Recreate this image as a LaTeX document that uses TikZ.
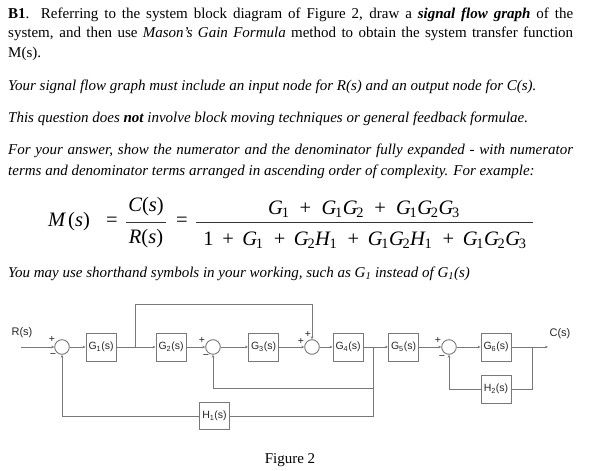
\documentclass[tikz,border=0pt]{standalone}
\usepackage{fontspec}
\setmainfont{Liberation Serif}
\newfontfamily\arialf{Liberation Sans}
\usetikzlibrary{arrows.meta}
\definecolor{linegray}{RGB}{120,120,120}
\newcommand\vv[2]{\textit{#1}\kern-0.06em\textsubscript{#2}}
\begin{document}
\begin{tikzpicture}[x=1pt,y=-1pt,
  wire/.style={draw=linegray, line width=0.9pt},
  arr/.style={wire, -{Stealth[length=3pt,width=2.6pt]}},
  blk/.style={draw=linegray, line width=0.9pt, minimum width=30pt, minimum height=28pt, inner sep=0pt, font=\arialf\fontsize{10.5}{11}\selectfont, text=black!85},
  sumc/.style={circle, draw=linegray, line width=0.9pt, minimum size=14.6pt, inner sep=0pt},
  sgn/.style={font=\arialf\fontsize{10.5}{10.5}\selectfont, inner sep=0pt, text=black!85},
  body/.style={anchor=base west, inner sep=0pt, font=\fontsize{15}{18}\selectfont},
  eq/.style={inner sep=0pt, font=\fontsize{20.5}{22}\selectfont},
  lbl/.style={font=\arialf\fontsize{11}{11}\selectfont, inner sep=0pt, text=black!85},
  fbar/.style={draw=black!80, line width=1pt}
]
\useasboundingbox (0,0) rectangle (595,471);
\fill[white] (0,0) rectangle (595,471);

% ---- text ----
\node[body] (t1) at (8,18) {\makebox[565pt][s]{\textbf{B1}. Referring to the system block diagram of Figure 2, draw a \textbf{\textit{signal flow graph}} of the}};
\node[body] (t2) at (8,37.5) {\makebox[565pt][s]{system, and then use \textit{Mason's Gain Formula} method to obtain the system transfer function}};
\node[body] (t3) at (8,57.5) {M(s).};
\node[body] (t4) at (8,90) {\itshape Your signal flow graph must include an input node for R(s) and an output node for C(s).};
\node[body] (t5) at (8,122) {\itshape This question does \textbf{not} involve block moving techniques or general feedback formulae.};
\node[body] (t6) at (8,154) {\itshape\makebox[565pt][s]{For your answer, show the numerator and the denominator fully expanded - with numerator}};
\node[body] (t7) at (8,175) {\itshape terms and denominator terms arranged in ascending order of complexity. For example:};
\node[body] (t8) at (8,277) {\itshape You may use shorthand symbols in your working, such as G\textsubscript{1} instead of G\textsubscript{1}(s)};

% ---- equation ----
\node[eq] (M) at (69,222) {\textit{M}\kern0.1em(\textit{s})};
\node[eq] (e1) at (112,222) {=};
\node[eq] (C) at (146,207) {\textit{C}(\textit{s})};
\node[eq] (R) at (146,239) {\textit{R}(\textit{s})};
\draw[fbar] (126,222.5) -- (166,222.5);
\node[eq] (e2) at (182,222) {=};
\node[eq] (num) at (364,209) {\vv{G}{1}\ \ +\ \ \vv{G}{1}\vv{G}{2}\ \ +\ \ \vv{G}{1}\vv{G}{2}\vv{G}{3}};
\node[eq] (den) at (365,240) {1\ \,+\ \,\vv{G}{1}\ \ +\ \,\vv{G}{2}\vv{H}{1}\ \ +\ \,\vv{G}{1}\vv{G}{2}\vv{H}{1}\ \ +\ \,\vv{G}{1}\vv{G}{2}\vv{G}{3}};
\draw[fbar] (196,222.5) -- (533,222.5);

% ---- block diagram ----
\coordinate (in) at (21,347);
\node[sumc] (s1) at (62,347) {};
\node[blk] (g1) at (101,347) {G\textsubscript{1}(s)};
\coordinate (b1) at (135,347);
\coordinate (top1) at (135,304);
\node[blk] (g2) at (171,347) {G\textsubscript{2}(s)};
\node[sumc] (s2) at (213,347) {};
\node[blk] (g3) at (263.5,347) {G\textsubscript{3}(s)};
\node[sumc] (s3) at (312,347) {};
\node[blk] (g4) at (348,347) {G\textsubscript{4}(s)};
\coordinate (b2) at (373,347);
\coordinate (fb2) at (373,388);
\coordinate (fb1) at (373,416);
\node[blk] (g5) at (403.5,347) {G\textsubscript{5}(s)};
\node[sumc] (s4) at (449,347) {};
\node[blk] (g6) at (496,347) {G\textsubscript{6}(s)};
\coordinate (b3) at (532,347);
\coordinate (out) at (548,347);
\node[blk] (h2) at (496,389) {H\textsubscript{2}(s)};
\node[blk, minimum height=27pt] (h1) at (214.5,416) {H\textsubscript{1}(s)};

\draw[arr] (in) -- (s1);
\draw[arr] (s1) -- (g1);
\draw[wire] (g1) -- (b1);
\draw[arr] (b1) -- (g2);
\draw[arr] (b1) -- (top1) -| (s3);
\draw[arr] (g2) -- (s2);
\draw[arr] (s2) -- (g3);
\draw[arr] (g3) -- (s3);
\draw[arr] (s3) -- (g4);
\draw[wire] (g4) -- (b2);
\draw[arr] (b2) -- (g5);
\draw[arr] (b2) -- (fb2) -| (s2);
\draw[wire] (fb2) -- (fb1) -- (h1);
\draw[arr] (h1) -| (s1);
\draw[arr] (g5) -- (s4);
\draw[arr] (s4) -- (g6);
\draw[wire] (g6) -- (b3);
\draw[arr] (b3) -- (out);
\draw[wire] (b3) |- (h2);
\draw[arr] (h2) -| (s4);

% labels and signs
\node[lbl] (rl) at (22,333) {R(s)};
\node[lbl] (cl) at (560,334) {C(s)};
\node[sgn] (p1) at (52,339) {+};
\node[sgn] (m1) at (53,356) {\textminus};
\node[sgn] (p2) at (202,340) {+};
\node[sgn] (m2) at (206,357) {\textminus};
\node[sgn] (p3) at (301,341) {+};
\node[sgn] (p3b) at (308,334) {+};
\node[sgn] (p4) at (438,340) {+};
\node[sgn] (m4) at (442,358) {\textminus};

\node[body, anchor=base] (fig) at (290,463) {Figure 2};
\end{tikzpicture}
\end{document}
